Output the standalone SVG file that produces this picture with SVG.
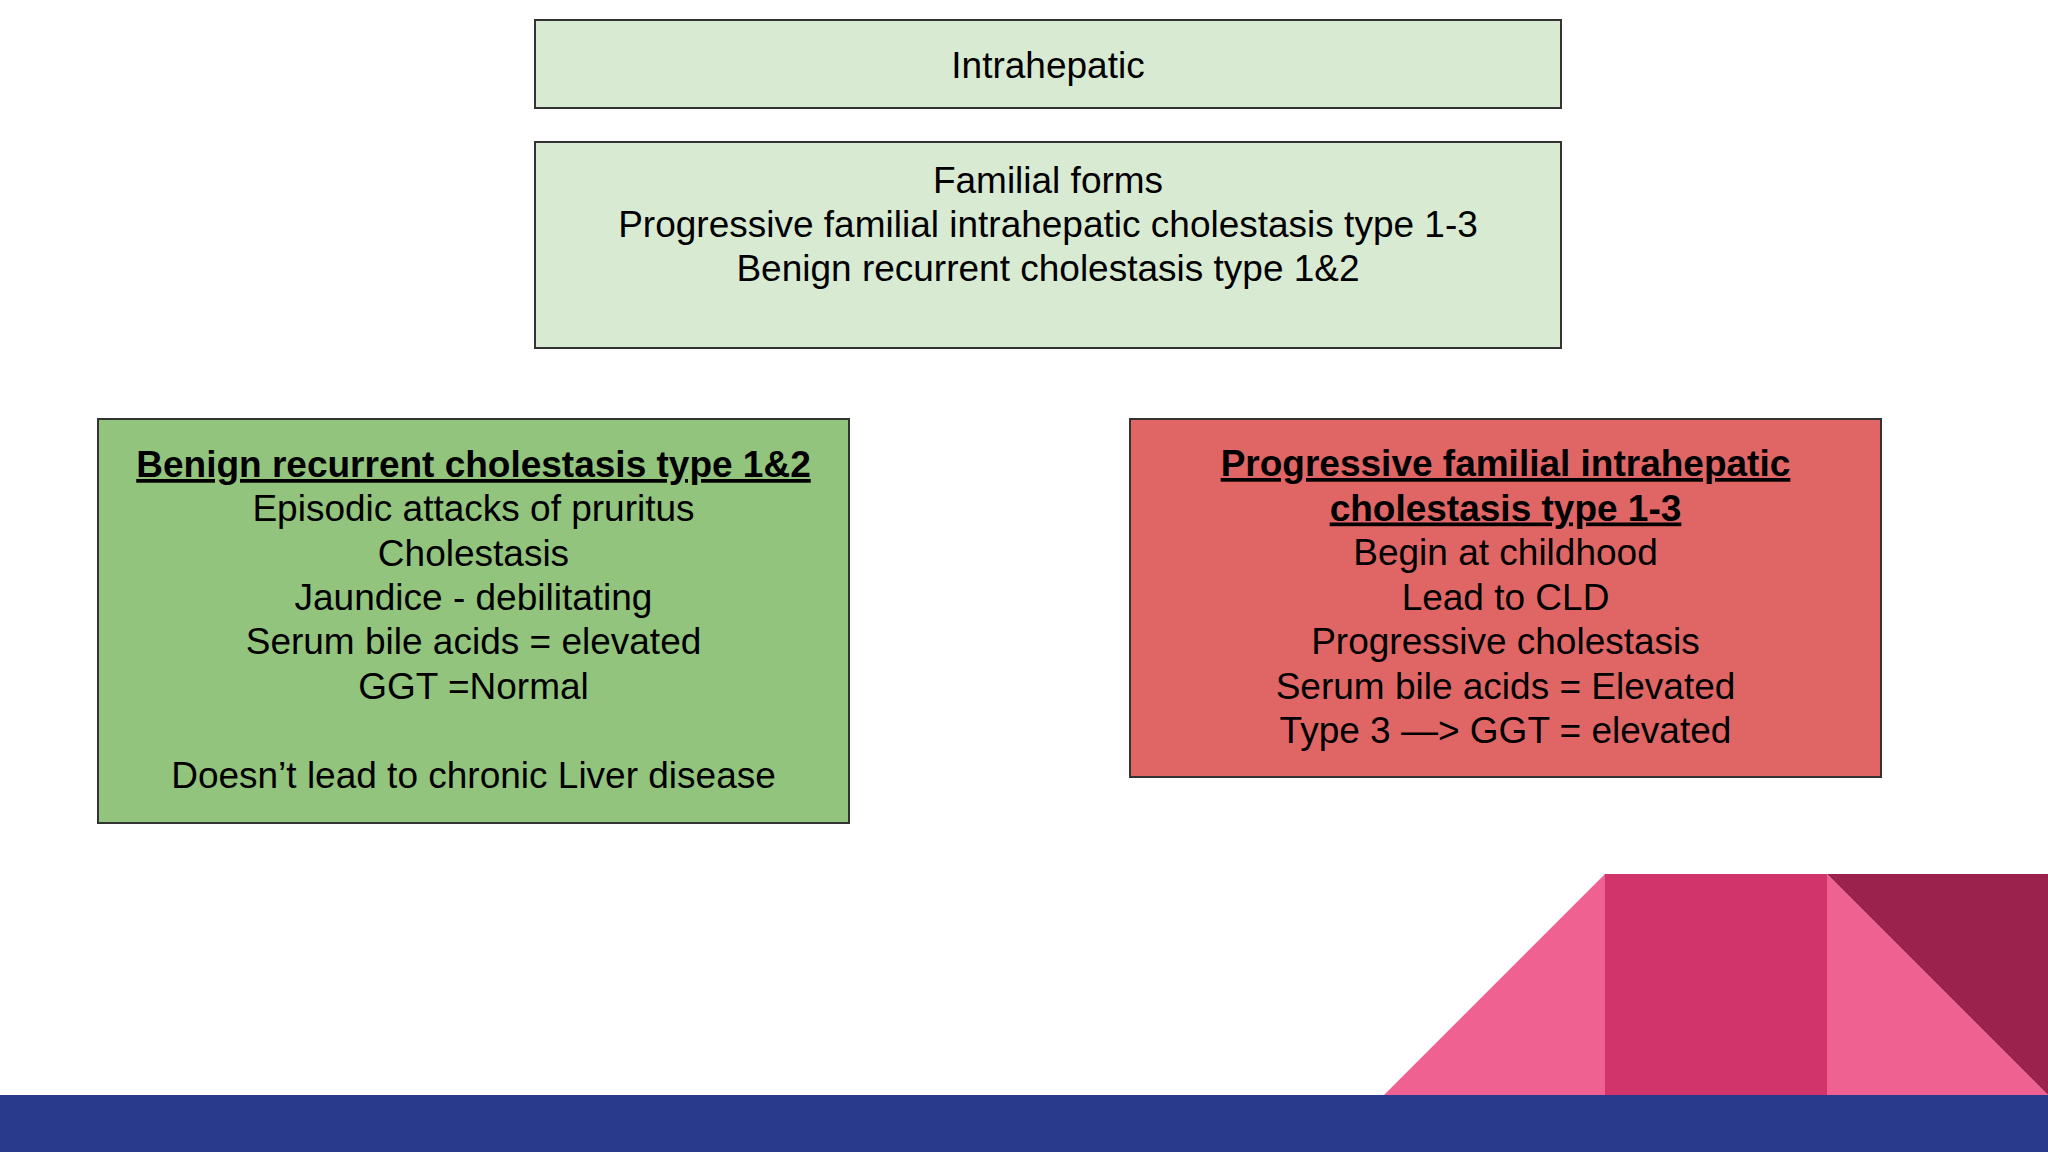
<svg xmlns="http://www.w3.org/2000/svg" width="2048" height="1152" viewBox="0 0 2048 1152">
<style>
.box{stroke:#333;stroke-width:2}
.t{font-family:"Liberation Sans",Arial,sans-serif;font-size:37px;fill:#000;text-anchor:middle}
.b{font-weight:bold;text-decoration:underline}
</style>
<rect width="2048" height="1152" fill="#fff"/>
<g id="intrahepatic">
<rect class="box" x="535" y="20" width="1026" height="88" fill="#d9ead3"/>
<text class="t" x="1048" y="78">Intrahepatic</text>
</g>
<g id="familial-forms">
<rect class="box" x="535" y="142" width="1026" height="206" fill="#d9ead3"/>
<text class="t" x="1048" y="192.5">Familial forms</text>
<text class="t" x="1048" y="237">Progressive familial intrahepatic cholestasis type 1-3</text>
<text class="t" x="1048" y="281">Benign recurrent cholestasis type 1&amp;2</text>
</g>
<g id="benign">
<rect class="box" x="98" y="419" width="751" height="404" fill="#93c47d"/>
<text class="t b" x="473.5" y="477">Benign recurrent cholestasis type 1&amp;2</text>
<text class="t" x="473.5" y="521">Episodic attacks of pruritus</text>
<text class="t" x="473.5" y="565.5">Cholestasis</text>
<text class="t" x="473.5" y="610">Jaundice - debilitating</text>
<text class="t" x="473.5" y="654">Serum bile acids = elevated</text>
<text class="t" x="473.5" y="699">GGT =Normal</text>
<text class="t" x="473.5" y="787.5">Doesn’t lead to chronic Liver disease</text>
</g>
<g id="progressive">
<rect class="box" x="1130" y="419" width="751" height="358" fill="#e06666"/>
<text class="t b" x="1505.5" y="476">Progressive familial intrahepatic</text>
<text class="t b" x="1505.5" y="520.5">cholestasis type 1-3</text>
<text class="t" x="1505.5" y="565">Begin at childhood</text>
<text class="t" x="1505.5" y="610">Lead to CLD</text>
<text class="t" x="1505.5" y="654">Progressive cholestasis</text>
<text class="t" x="1505.5" y="699">Serum bile acids = Elevated</text>
<text class="t" x="1505.5" y="743">Type 3 —&gt; GGT = elevated</text>
</g>
<g id="decoration">
<polygon points="1384,1095 1605,874 1605,1095" fill="#ef6191"/>
<rect x="1605" y="874" width="222" height="221" fill="#d1346a"/>
<polygon points="1827,874 1827,1095 2048,1095" fill="#ef6191"/>
<polygon points="1827,874 2048,874 2048,1095" fill="#9c224e"/>
<rect x="0" y="1095" width="2048" height="57" fill="#293a8d"/>
</g>
</svg>
